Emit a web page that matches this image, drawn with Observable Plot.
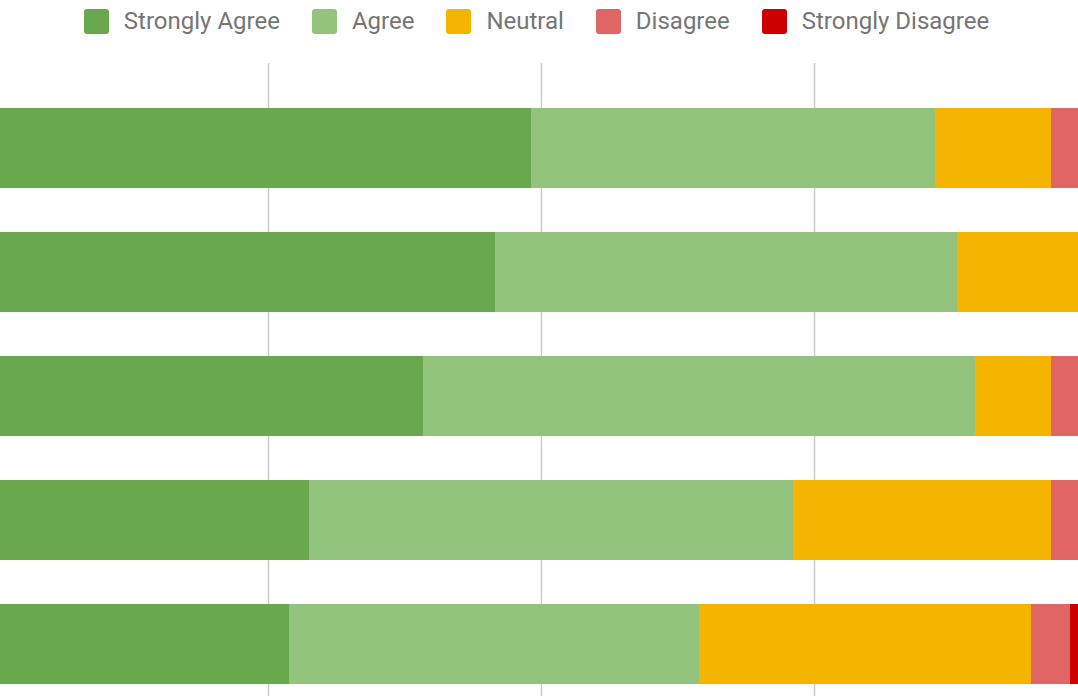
<!DOCTYPE html>
<html>
<head>
<meta charset="utf-8">
<script src="https://cdn.jsdelivr.net/npm/d3@7"></script>
<script src="https://cdn.jsdelivr.net/npm/@observablehq/plot@0.6"></script>
<style>
  html, body { margin: 0; padding: 0; background: #fff; overflow: hidden; }
  #wrap { width: 1078px; height: 696px; overflow: hidden; position: relative; }
  #legend { height: 44px; display: flex; justify-content: center; align-items: flex-start;
            padding-right: 5px; box-sizing: border-box;
            font-family: Roboto, "Noto Sans", sans-serif; font-size: 24px; color: #757575; }
  .item { display: flex; align-items: center; height: 42px; margin: 0 16px; }
  .sw { width: 25px; height: 25px; border-radius: 3px; margin-right: 15px; }
  #chart svg { display: block; overflow: hidden; }
</style>
</head>
<body>
<div id="wrap">
  <div id="legend"></div>
  <div id="chart"></div>
</div>
<script>
const questions = ["Statement 1", "Statement 2", "Statement 3", "Statement 4", "Statement 5"];
const responses = ["Strongly Agree", "Agree", "Neutral", "Disagree", "Strongly Disagree"];
const colors = ["#6aa84f", "#93c47d", "#f4b400", "#e06666", "#cc0000"];
const stronglyAgree    = [49.1, 45.8, 39.2, 28.8, 26.9];
const agree            = [37.0, 42.3, 50.5, 44.3, 37.6];
const neutral          = [10.6, 11.9,  7.0, 23.6, 30.4];
const disagree         = [ 3.3,  0.0,  3.3,  3.3,  3.5];
const stronglyDisagree = [ 0.0,  0.0,  0.0,  0.0,  1.6];
const gridTicks = [25, 50, 75];

const series = [stronglyAgree, agree, neutral, disagree, stronglyDisagree];
const data = [];
questions.forEach((q, i) => {
  responses.forEach((r, j) => data.push({question: q, response: r, value: series[j][i]}));
});

// legend
const legend = document.getElementById("legend");
responses.forEach((r, j) => {
  const it = document.createElement("div");
  it.className = "item";
  const sw = document.createElement("div");
  sw.className = "sw";
  sw.style.background = colors[j];
  const tx = document.createElement("span");
  tx.textContent = r;
  it.appendChild(sw); it.appendChild(tx);
  legend.appendChild(it);
});

const chart = Plot.plot({
  width: 1078,
  height: 652,
  marginTop: 19,
  marginBottom: 0,
  marginLeft: 0,
  marginRight: 0,
  x: {domain: [0, 100], range: [-5, 1087], axis: null},
  y: {domain: questions, range: [18.5, 685.5], padding: 0.357, axis: null},
  color: {domain: responses, range: colors},
  marks: [
    Plot.ruleX(gridTicks, {stroke: "#cccccc", strokeWidth: 1.5}),
    Plot.barX(data, Plot.stackX({y: "question", x: "value", fill: "response", order: responses, shapeRendering: "crispEdges"}))
  ]
});
document.getElementById("chart").appendChild(chart);
</script>
</body>
</html>
